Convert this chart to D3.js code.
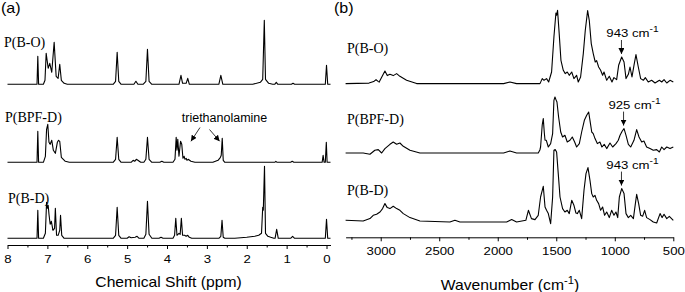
<!DOCTYPE html>
<html>
<head>
<meta charset="utf-8">
<script src="https://cdn.jsdelivr.net/npm/d3@7"></script>
<style>
  body { margin: 0; background: #fff; }
  svg { display: block; }
</style>
</head>
<body>
<svg id="chart" width="685" height="292"></svg>
<script>
// ---- panel (a): 1H NMR, [ppm, intensity above own baseline] ----
const nmrLabels = ["P(B-O)", "P(BPF-D)", "P(B-D)"];
const nmrOffsets = [160.7, 82.7, 6.7];
const nmrTicks = [8, 7, 6, 5, 4, 3, 2, 1, 0];
const nmrMinor = [7.5, 6.5, 5.5, 4.5, 3.5, 2.5, 1.5, 0.5];

const nmrBO = [
  [8.0, 0], [7.26, 0], [7.24, 28], [7.22, 0],
  [7.10, 0], [7.06, 4], [7.03, 31], [6.98, 16], [6.94, 21], [6.89, 12], [6.83, 42], [6.78, 8], [6.73, 6], [6.69, 20], [6.65, 4], [6.58, 1], [6.5, 0],
  [5.35, 0], [5.29, 3], [5.25, 32], [5.21, 3], [5.15, 0],
  [4.83, 0], [4.78, 3], [4.73, 0],
  [4.6, 0], [4.53, 3], [4.49, 35], [4.45, 3], [4.38, 0],
  [3.70, 0], [3.65, 9], [3.61, 1], [3.52, 1], [3.48, 6], [3.44, 0],
  [2.70, 0], [2.65, 9], [2.60, 0],
  [1.85, 0], [1.66, 2], [1.60, 5], [1.56, 64], [1.53, 5], [1.45, 1], [1.35, 0],
  [1.30, 0], [1.26, 2], [1.22, 0], [0.88, 0], [0.84, 1], [0.80, 0],
  [0.03, 0], [0.0, 19], [-0.03, 0], [-0.1, 0]
];

const nmrBPFD = [
  [8.0, 0], [7.26, 0], [7.24, 31], [7.22, 0],
  [7.10, 0], [7.05, 6], [7.02, 33], [6.99, 38], [6.96, 20], [6.93, 18], [6.89, 22], [6.85, 12], [6.80, 9], [6.75, 20], [6.72, 22], [6.69, 21], [6.65, 5], [6.55, 1], [6.45, 0],
  [5.35, 0], [5.29, 3], [5.25, 25], [5.21, 3], [5.15, 0],
  [4.90, 0], [4.85, 2], [4.81, 1], [4.77, 3], [4.73, 2], [4.66, 0],
  [4.58, 0], [4.53, 3], [4.49, 25], [4.45, 3], [4.38, 0],
  [4.18, 0], [4.13, 1], [4.08, 0],
  [3.85, 0], [3.80, 3], [3.77, 25], [3.75, 12], [3.73, 23], [3.70, 6], [3.66, 21], [3.63, 18], [3.60, 4], [3.57, 6], [3.55, 3], [3.52, 4], [3.50, 2], [3.47, 3], [3.40, 1], [3.30, 0],
  [2.85, 0], [2.72, 2], [2.66, 5], [2.64, 7], [2.615, 24], [2.59, 2], [2.55, 0],
  [1.30, 0], [1.27, 1], [1.24, 0], [0.90, 0], [0.86, 1], [0.82, 0],
  [0.11, 0], [0.085, 7], [0.06, 0], [0.03, 0], [0.005, 20], [-0.015, 0], [-0.1, 0]
];

const nmrBD = [
  [8.0, 0], [7.26, 0], [7.24, 28], [7.22, 0],
  [7.10, 0], [7.05, 5], [7.02, 36], [7.00, 30], [6.98, 33], [6.96, 24], [6.93, 14], [6.90, 17], [6.86, 8], [6.82, 10], [6.80, 30], [6.77, 3], [6.73, 3], [6.69, 8], [6.67, 23], [6.64, 3], [6.58, 0],
  [5.35, 0], [5.29, 3], [5.25, 31], [5.21, 3], [5.15, 0],
  [5.0, 0], [4.95, 1.5], [4.9, 0.5], [4.8, 1], [4.75, 2], [4.7, 0],
  [4.58, 0], [4.53, 4], [4.49, 37], [4.45, 4], [4.38, 0],
  [4.2, 0], [4.15, 1], [4.1, 0],
  [3.85, 0], [3.81, 3], [3.78, 20], [3.75, 3], [3.70, 5], [3.67, 4], [3.64, 20], [3.61, 3], [3.56, 3], [3.52, 2], [3.48, 3], [3.44, 1], [3.38, 0],
  [2.70, 0], [2.65, 2], [2.62, 18], [2.59, 1], [2.55, 0],
  [2.3, 0], [2.0, 1], [1.8, 2], [1.7, 3], [1.63, 5], [1.60, 31], [1.585, 28], [1.555, 72], [1.53, 5], [1.47, 2], [1.40, 1], [1.32, 0],
  [1.29, 0], [1.25, 9], [1.21, 0], [0.90, 0], [0.85, 2], [0.80, 0],
  [0.03, 0], [0.0, 19], [-0.03, 0], [-0.1, 0]
];

// triethanolamine arrows point at these shifts on the P(BPF-D) trace
const teaTargets = [3.40, 2.68];

// ---- panel (b): FTIR, [wavenumber, intensity above own baseline] ----
const irLabels = ["P(B-O)", "P(BPF-D)", "P(B-D)"];
const irOffsets = [153.7, 84.3, 16.3];
const irTicks = [3000, 2500, 2000, 1500, 1000, 500];
const irMinor = [3250, 2750, 2250, 1750, 1250, 750];

const irBO = [
  [3300, 0], [3100, 0.5], [3060, 2], [3040, 4], [3020, 2], [3013, 1.5], [2984, 8], [2964, 12.6], [2944, 8], [2921, 9.3],
  [2893, 8], [2864, 10], [2836, 7.3], [2779, 3.3], [2693, 0], [2400, 0], [1950, 0], [1896, 1.6], [1839, 0], [1660, 0],
  [1639, 0], [1620, 5], [1605, 3.3], [1583, 5], [1565, 1.6], [1540, 11.6], [1520, 46.6], [1503, 70.6], [1497, 68.3], [1489, 73.3],
  [1475, 50], [1460, 23.3], [1440, 13.3], [1423, 10], [1406, 11.6], [1389, 8.3], [1368, 11.6], [1349, 5], [1326, 8.3], [1312, 1.6],
  [1292, 6.6], [1269, 30], [1252, 53.3], [1232, 73], [1218, 63.3], [1201, 40], [1184, 30], [1167, 21.6], [1155, 23], [1138, 16.6],
  [1121, 13.3], [1104, 8.3], [1092, 11.6], [1069, 3.3], [1047, 7.3], [1024, 1.6], [1007, 6], [984, 4], [967, 18.3], [941, 26.6],
  [921, 21.6], [904, 5], [884, 9.3], [870, 16.6], [853, 6.6], [836, 18.3], [819, 29], [799, 16.6], [779, 5], [756, 3.3],
  [739, 6], [714, 1.6], [685, 3.3], [656, 0.6], [619, 3.3], [599, 1.6], [579, 4], [556, 0.6], [528, 3.3], [500, 1.6]
];

const irBPFD = [
  [3300, 0], [3150, 0], [3092, -1.3], [3050, 2.7], [3021, 3.4], [2992, 0], [2964, 4.4], [2921, 8.7], [2893, 11], [2864, 8.7],
  [2836, 10], [2807, 6.7], [2750, 2.7], [2665, 0], [2010, 0], [1950, 0], [1896, 2], [1839, 0], [1725, 0], [1654, 0],
  [1640, 3], [1634, 6], [1620, 28], [1611, 34.4], [1602, 20], [1596, 12.7], [1585, 12.7], [1568, 6], [1548, 9.4], [1531, 19.4],
  [1520, 52.7], [1511, 56], [1503, 53.4], [1494, 51], [1480, 36], [1462, 21], [1446, 16], [1426, 17.7], [1406, 11], [1383, 12.7],
  [1363, 16], [1343, 11], [1326, 6], [1303, 9.4], [1283, 21], [1260, 32.7], [1240, 37.7], [1223, 41], [1212, 32.7], [1197, 21],
  [1184, 19.4], [1169, 14.4], [1149, 9.4], [1127, 11], [1110, 6], [1090, 8.7], [1069, 4.4], [1041, 10], [1018, 6], [990, 9.4],
  [970, 12.7], [955, 17.7], [936, 22], [921, 24.4], [904, 17.7], [884, 8.7], [864, 6], [836, 12.7], [813, 23.4], [793, 16],
  [770, 11], [751, 12], [728, 6], [699, 4.4], [671, 2.7], [642, 3.4], [619, 1], [599, 6], [579, 3.4], [556, 6], [528, 4.4], [500, 6]
];

const irBD = [
  [3300, 0.7], [3150, 0], [3092, 2.4], [3064, 5.7], [3035, 6.7], [3006, 9], [2984, 12.4], [2964, 17.4], [2944, 13.4], [2921, 12.4],
  [2893, 14.7], [2864, 12.4], [2836, 10.7], [2807, 7.4], [2750, 3.4], [2665, 0], [2409, -1], [2366, 0.7], [2323, -1], [1924, -1],
  [1881, 1.4], [1839, -1], [1760, 0.7], [1738, 10.7], [1712, 2.4], [1682, 1.4], [1654, 5.7], [1634, 24], [1611, 34.7], [1596, 14],
  [1583, 10.7], [1568, 7.4], [1548, -2.6], [1531, 24], [1520, 70.7], [1509, 71.4], [1497, 69], [1483, 47.4], [1468, 24], [1446, 12.4],
  [1426, 9], [1406, 10.7], [1389, 7.4], [1368, 20.7], [1349, 15.7], [1332, 8], [1320, 7.4], [1303, 10.7], [1283, 2.4], [1263, 30.7],
  [1246, 47.4], [1229, 53.4], [1212, 40.7], [1197, 27.4], [1184, 24], [1169, 25.7], [1155, 20.7], [1138, 17.4], [1121, 10.7], [1104, 14],
  [1087, 5.7], [1069, 9], [1047, 3.4], [1027, 10.7], [1007, 5.7], [990, 9], [975, 3.4], [961, 24], [941, 32.4], [921, 27.4],
  [904, 7.4], [884, 3.4], [864, 5.7], [841, 2.4], [824, 17.4], [813, 26.7], [796, 17.4], [779, 5.7], [762, 4.7], [745, 10.7],
  [728, 3.4], [699, 1.4], [671, -1], [642, -2], [613, 7.4], [596, 3.4], [579, 6.7], [556, 2.4], [534, 4.7], [500, 0.7]
];

// marked bands (cm-1) and which trace they sit on
const irMarkWn = [943, 925, 943];
const irMarkTrace = [0, 1, 2];

const SANS = '"Liberation Sans", Arial, sans-serif';
const SERIF = '"Liberation Serif", "Times New Roman", serif';
const svg = d3.select("#chart");

const xL = d3.scaleLinear().domain([8, -0.1]).range([7.5, 330.5]);
const yL = d3.scaleLinear().domain([0, 230]).range([245, 15]);
const xR = d3.scaleLinear().domain([3300, 500]).range([345.6, 673.3]);
const yR = d3.scaleLinear().domain([0, 230]).range([237.3, 7.3]);

// helper: text stretched a bit wider, like the original export
function label(x, y, str, size, family, sx, anchor) {
  return svg.append("text")
    .attr("transform", `translate(${x},${y}) scale(${sx},1)`)
    .attr("text-anchor", anchor || "start")
    .style("font-family", family)
    .style("font-size", size + "px")
    .attr("fill", "#000")
    .text(str);
}

function drawAxis(x, yPos, ticks, minor) {
  const g = svg.append("g").attr("transform", `translate(0,${yPos})`);
  g.append("g")
    .call(d3.axisBottom(x).tickValues(minor).tickSize(2.5).tickSizeOuter(0).tickFormat(""))
    .call(a => a.select(".domain").remove());
  const ax = g.append("g")
    .call(d3.axisBottom(x).tickValues(ticks).tickSize(4).tickSizeOuter(0).tickPadding(6).tickFormat(d3.format("d")));
  ax.selectAll("text")
    .attr("transform", "scale(1.2,1)")
    .style("font-family", SANS)
    .style("font-size", "11px")
    .attr("fill", "#000");
  g.selectAll("line, path").attr("stroke", "#000").attr("stroke-width", 1);
}

function drawTraces(x, y, series, offsets) {
  series.forEach((s, i) => {
    const line = d3.line()
      .x(d => x(d[0]))
      .y(d => y(offsets[i] + d[1]));
    svg.append("path")
      .datum(s)
      .attr("d", line)
      .attr("fill", "none")
      .attr("stroke", "#000")
      .attr("stroke-width", 1.1)
      .attr("stroke-linejoin", "round");
  });
}

// arrowhead marker
svg.append("defs").append("marker")
  .attr("id", "ah")
  .attr("viewBox", "0 0 10 10")
  .attr("refX", 10).attr("refY", 5)
  .attr("markerWidth", 6).attr("markerHeight", 6)
  .attr("markerUnits", "userSpaceOnUse")
  .attr("orient", "auto")
  .append("path").attr("d", "M0,0 L10,5 L0,10 z").attr("fill", "#000");

// ---- panel (a) ----
const nmrSeries = [nmrBO, nmrBPFD, nmrBD];
drawTraces(xL, yL, nmrSeries, nmrOffsets);
drawAxis(xL, 245, nmrTicks, nmrMinor);

const nmrLabelPos = [[4, 46.5], [5, 122], [8, 203]];
nmrLabels.forEach((t, i) => label(nmrLabelPos[i][0], nmrLabelPos[i][1], t, 14, SERIF, 1));

label(1, 13, "(a)", 14, SANS, 1.15);
label(168.5, 286.5, "Chemical Shift (ppm)", 14, SANS, 1.12, "middle");

// triethanolamine callout
label(224.5, 121.5, "triethanolamine", 12.5, SANS, 1, "middle");
const teaTails = [[200, 127.5], [209.5, 129.5]];
teaTargets.forEach((p, i) => {
  svg.append("line")
    .attr("x1", teaTails[i][0]).attr("y1", teaTails[i][1])
    .attr("x2", xL(p)).attr("y2", yL(nmrOffsets[1] + 21))
    .attr("stroke", "#000").attr("stroke-width", 0.8)
    .attr("marker-end", "url(#ah)");
});

// ---- panel (b) ----
const irSeries = [irBO, irBPFD, irBD];
drawTraces(xR, yR, irSeries, irOffsets);
drawAxis(xR, 237.3, irTicks, irMinor);

const irLabelPos = [[347, 52.5], [347, 124], [347, 195]];
irLabels.forEach((t, i) => label(irLabelPos[i][0], irLabelPos[i][1], t, 14, SERIF, 1));

label(334, 13, "(b)", 14, SANS, 1.15);

const title = svg.append("text")
  .attr("transform", "translate(510,290) scale(1.12,1)")
  .attr("text-anchor", "middle")
  .style("font-family", SANS)
  .style("font-size", "14px");
title.append("tspan").text("Wavenumber (cm");
title.append("tspan").attr("dy", -6).style("font-size", "10px").text("-1");
title.append("tspan").attr("dy", 6).text(")");

// band markers: arrow down onto the peak, label above
irMarkWn.forEach((wn, i) => {
  const s = irSeries[irMarkTrace[i]];
  const peak = d3.max(s.filter(d => Math.abs(d[0] - wn) < 25), d => d[1]);
  const px = xR(wn);
  const tip = yR(irOffsets[irMarkTrace[i]] + peak) - 3;
  svg.append("line")
    .attr("x1", px).attr("y1", tip - 14)
    .attr("x2", px).attr("y2", tip)
    .attr("stroke", "#000").attr("stroke-width", 0.8)
    .attr("marker-end", "url(#ah)");
  const t = svg.append("text")
    .attr("transform", `translate(${px + 11},${tip - 17}) scale(1.2,1)`)
    .attr("text-anchor", "middle")
    .style("font-family", SANS)
    .style("font-size", "11px");
  t.append("tspan").text(wn + " cm");
  t.append("tspan").attr("dy", -5).style("font-size", "8.5px").text("-1");
});
</script>
</body>
</html>
